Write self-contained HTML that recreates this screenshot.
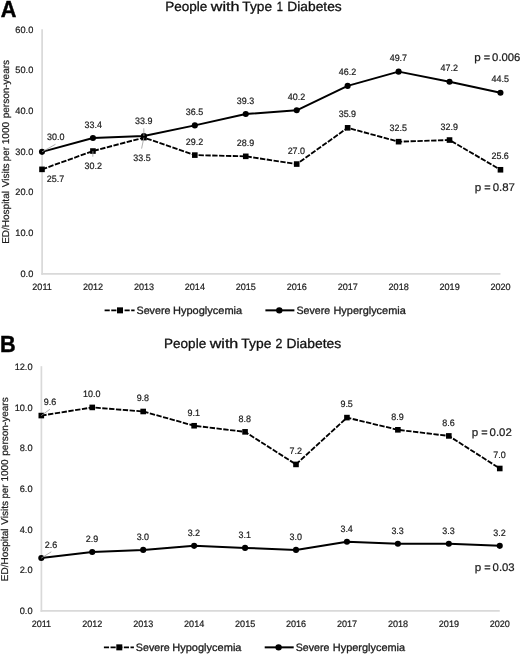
<!DOCTYPE html>
<html><head><meta charset="utf-8"><title>Figure</title>
<style>
html,body{margin:0;padding:0;background:#fff;}
svg{display:block;font-family:"Liberation Sans", sans-serif;fill:#1c1c1c;text-rendering:geometricPrecision;}
text{stroke:#1c1c1c;stroke-width:0.22px;}
text.L{fill:#000;stroke:#000;stroke-width:0.45px;}
text.g{stroke-width:0.3px;}
text.t{fill:#111;stroke:#111;stroke-width:0.3px;}
</style></head><body>
<svg width="520" height="655" viewBox="0 0 520 655">
<rect width="520" height="655" fill="#fff"/>
<!-- panel A -->
<line x1="42.1" y1="29.2" x2="42.1" y2="274.65000000000003" stroke="#d9d9d9" stroke-width="1.7"/>
<line x1="41.25" y1="273.8" x2="500.46" y2="273.8" stroke="#d9d9d9" stroke-width="1.7"/>
<text x="20.46" y="276.80" font-size="9.3" textLength="12.81" lengthAdjust="spacingAndGlyphs">0.0</text>
<text x="15.33" y="236.08" font-size="9.3" textLength="17.94" lengthAdjust="spacingAndGlyphs">10.0</text>
<text x="15.33" y="195.37" font-size="9.3" textLength="17.94" lengthAdjust="spacingAndGlyphs">20.0</text>
<text x="15.33" y="154.65" font-size="9.3" textLength="17.94" lengthAdjust="spacingAndGlyphs">30.0</text>
<text x="15.33" y="113.93" font-size="9.3" textLength="17.94" lengthAdjust="spacingAndGlyphs">40.0</text>
<text x="15.33" y="73.22" font-size="9.3" textLength="17.94" lengthAdjust="spacingAndGlyphs">50.0</text>
<text x="15.33" y="32.50" font-size="9.3" textLength="17.94" lengthAdjust="spacingAndGlyphs">60.0</text>
<text x="32.34" y="290.00" font-size="9.3" textLength="19.50" lengthAdjust="spacingAndGlyphs">2011</text>
<text x="82.94" y="290.00" font-size="9.3" textLength="20.17" lengthAdjust="spacingAndGlyphs">2012</text>
<text x="133.88" y="290.00" font-size="9.3" textLength="20.17" lengthAdjust="spacingAndGlyphs">2013</text>
<text x="184.77" y="290.00" font-size="9.3" textLength="20.17" lengthAdjust="spacingAndGlyphs">2014</text>
<text x="235.76" y="290.00" font-size="9.3" textLength="20.17" lengthAdjust="spacingAndGlyphs">2015</text>
<text x="286.70" y="290.00" font-size="9.3" textLength="20.17" lengthAdjust="spacingAndGlyphs">2016</text>
<text x="337.64" y="290.00" font-size="9.3" textLength="20.17" lengthAdjust="spacingAndGlyphs">2017</text>
<text x="388.58" y="290.00" font-size="9.3" textLength="20.17" lengthAdjust="spacingAndGlyphs">2018</text>
<text x="439.52" y="290.00" font-size="9.3" textLength="20.17" lengthAdjust="spacingAndGlyphs">2019</text>
<text x="490.41" y="290.00" font-size="9.3" textLength="20.17" lengthAdjust="spacingAndGlyphs">2020</text>
<polyline points="42.00,169.36 92.94,151.04 143.88,137.60 194.82,155.11 245.76,156.33 296.70,164.06 347.64,127.83 398.58,141.67 449.52,140.04 500.46,169.77" fill="none" stroke="#000" stroke-width="1.85" stroke-dasharray="5.35 1.5"/>
<rect x="39.20" y="166.56" width="5.6" height="5.6" fill="#000"/>
<rect x="90.14" y="148.24" width="5.6" height="5.6" fill="#000"/>
<rect x="141.08" y="134.80" width="5.6" height="5.6" fill="#000"/>
<rect x="192.02" y="152.31" width="5.6" height="5.6" fill="#000"/>
<rect x="242.96" y="153.53" width="5.6" height="5.6" fill="#000"/>
<rect x="293.90" y="161.26" width="5.6" height="5.6" fill="#000"/>
<rect x="344.84" y="125.03" width="5.6" height="5.6" fill="#000"/>
<rect x="395.78" y="138.87" width="5.6" height="5.6" fill="#000"/>
<rect x="446.72" y="137.24" width="5.6" height="5.6" fill="#000"/>
<rect x="497.66" y="166.97" width="5.6" height="5.6" fill="#000"/>
<polyline points="42.00,151.85 92.94,138.01 143.88,135.97 194.82,125.38 245.76,113.98 296.70,110.32 347.64,85.89 398.58,71.64 449.52,81.82 500.46,92.81" fill="none" stroke="#000" stroke-width="2.0" stroke-linejoin="round"/>
<circle cx="42.00" cy="151.85" r="3.05" fill="#000"/>
<circle cx="92.94" cy="138.01" r="3.05" fill="#000"/>
<circle cx="143.88" cy="135.97" r="3.05" fill="#000"/>
<circle cx="194.82" cy="125.38" r="3.05" fill="#000"/>
<circle cx="245.76" cy="113.98" r="3.05" fill="#000"/>
<circle cx="296.70" cy="110.32" r="3.05" fill="#000"/>
<circle cx="347.64" cy="85.89" r="3.05" fill="#000"/>
<circle cx="398.58" cy="71.64" r="3.05" fill="#000"/>
<circle cx="449.52" cy="81.82" r="3.05" fill="#000"/>
<circle cx="500.46" cy="92.81" r="3.05" fill="#000"/>
<line x1="55.50" y1="144.30" x2="42.00" y2="151.85" stroke="#9c9c9c" stroke-width="0.8"/>
<line x1="92.80" y1="156.70" x2="92.94" y2="151.04" stroke="#9c9c9c" stroke-width="0.8"/>
<line x1="143.80" y1="128.30" x2="143.88" y2="135.97" stroke="#9c9c9c" stroke-width="0.8"/>
<line x1="141.60" y1="148.60" x2="143.88" y2="137.60" stroke="#9c9c9c" stroke-width="0.8"/>
<text x="47.03" y="139.90" font-size="9.3" textLength="17.41" lengthAdjust="spacingAndGlyphs">30.0</text>
<text x="84.53" y="127.90" font-size="9.3" textLength="17.41" lengthAdjust="spacingAndGlyphs">33.4</text>
<text x="135.08" y="124.00" font-size="9.3" textLength="17.41" lengthAdjust="spacingAndGlyphs">33.9</text>
<text x="185.85" y="114.93" font-size="9.3" textLength="17.41" lengthAdjust="spacingAndGlyphs">36.5</text>
<text x="236.79" y="103.53" font-size="9.3" textLength="17.41" lengthAdjust="spacingAndGlyphs">39.3</text>
<text x="287.78" y="99.87" font-size="9.3" textLength="17.41" lengthAdjust="spacingAndGlyphs">40.2</text>
<text x="338.72" y="75.44" font-size="9.3" textLength="17.41" lengthAdjust="spacingAndGlyphs">46.2</text>
<text x="389.66" y="61.19" font-size="9.3" textLength="17.41" lengthAdjust="spacingAndGlyphs">49.7</text>
<text x="440.60" y="71.37" font-size="9.3" textLength="17.41" lengthAdjust="spacingAndGlyphs">47.2</text>
<text x="491.54" y="82.36" font-size="9.3" textLength="17.41" lengthAdjust="spacingAndGlyphs">44.5</text>
<text x="46.78" y="182.30" font-size="9.3" textLength="17.41" lengthAdjust="spacingAndGlyphs">25.7</text>
<text x="84.58" y="168.70" font-size="9.3" textLength="17.41" lengthAdjust="spacingAndGlyphs">30.2</text>
<text x="133.23" y="160.75" font-size="9.3" textLength="17.41" lengthAdjust="spacingAndGlyphs">33.5</text>
<text x="185.80" y="144.66" font-size="9.3" textLength="17.41" lengthAdjust="spacingAndGlyphs">29.2</text>
<text x="236.74" y="145.88" font-size="9.3" textLength="17.41" lengthAdjust="spacingAndGlyphs">28.9</text>
<text x="287.63" y="153.62" font-size="9.3" textLength="17.41" lengthAdjust="spacingAndGlyphs">27.0</text>
<text x="338.67" y="117.38" font-size="9.3" textLength="17.41" lengthAdjust="spacingAndGlyphs">35.9</text>
<text x="389.61" y="131.22" font-size="9.3" textLength="17.41" lengthAdjust="spacingAndGlyphs">32.5</text>
<text x="440.55" y="129.59" font-size="9.3" textLength="17.41" lengthAdjust="spacingAndGlyphs">32.9</text>
<text x="491.44" y="159.32" font-size="9.3" textLength="17.41" lengthAdjust="spacingAndGlyphs">25.6</text>
<text y="60.90" font-size="11.0"><tspan x="474.26" textLength="6.48" lengthAdjust="spacingAndGlyphs">p</tspan> <tspan x="483.70" textLength="6.42" lengthAdjust="spacingAndGlyphs">=</tspan> <tspan x="492.09" textLength="28.34" lengthAdjust="spacingAndGlyphs">0.006</tspan></text>
<text y="191.20" font-size="11.0"><tspan x="474.86" textLength="6.48" lengthAdjust="spacingAndGlyphs">p</tspan> <tspan x="484.30" textLength="6.42" lengthAdjust="spacingAndGlyphs">=</tspan> <tspan x="492.68" textLength="22.25" lengthAdjust="spacingAndGlyphs">0.87</tspan></text>
<text y="11.15" font-size="13.4" class="t"><tspan x="165.19" textLength="42.07" lengthAdjust="spacingAndGlyphs">People</tspan> <tspan x="210.82" textLength="28.71" lengthAdjust="spacingAndGlyphs">with</tspan> <tspan x="242.39" textLength="29.67" lengthAdjust="spacingAndGlyphs">Type</tspan> <tspan x="276.67" textLength="6.17" lengthAdjust="spacingAndGlyphs">1</tspan> <tspan x="287.37" textLength="54.34" lengthAdjust="spacingAndGlyphs">Diabetes</tspan></text>
<text transform="translate(0.65,16.6) scale(0.93,1)" font-size="23.3" font-weight="bold" class="L">A</text>
<text transform="translate(8.90,243.30) rotate(-90)" y="0" font-size="9.9"><tspan x="-0.51" textLength="52.71" lengthAdjust="spacingAndGlyphs">ED/Hospital</tspan> <tspan x="56.00" textLength="23.86" lengthAdjust="spacingAndGlyphs">Visits</tspan> <tspan x="82.11" textLength="14.09" lengthAdjust="spacingAndGlyphs">per</tspan> <tspan x="99.09" textLength="22.21" lengthAdjust="spacingAndGlyphs">1000</tspan> <tspan x="124.99" textLength="58.36" lengthAdjust="spacingAndGlyphs">person-years</tspan></text>
<line x1="104.6" y1="310.35" x2="134.6" y2="310.35" stroke="#000" stroke-width="1.85" stroke-dasharray="5.15 1.5"/>
<rect x="117.00" y="307.35" width="6" height="6" fill="#000"/>
<text y="313.85" font-size="10.6" class="g"><tspan x="136.50" textLength="33.90" lengthAdjust="spacingAndGlyphs">Severe</tspan> <tspan x="172.97" textLength="69.23" lengthAdjust="spacingAndGlyphs">Hypoglycemia</tspan></text>
<line x1="265.4" y1="310.35" x2="294.4" y2="310.35" stroke="#000" stroke-width="2.0"/>
<circle cx="279.3" cy="310.35" r="3.2" fill="#000"/>
<text y="313.85" font-size="10.6" class="g"><tspan x="296.50" textLength="33.60" lengthAdjust="spacingAndGlyphs">Severe</tspan> <tspan x="333.47" textLength="72.32" lengthAdjust="spacingAndGlyphs">Hyperglycemia</tspan></text>
<!-- panel B -->
<line x1="41.4" y1="366.2" x2="41.4" y2="611.75" stroke="#d9d9d9" stroke-width="1.7"/>
<line x1="40.55" y1="610.9" x2="499.76" y2="610.9" stroke="#d9d9d9" stroke-width="1.7"/>
<text x="19.76" y="614.10" font-size="9.3" textLength="12.81" lengthAdjust="spacingAndGlyphs">0.0</text>
<text x="19.76" y="573.38" font-size="9.3" textLength="12.81" lengthAdjust="spacingAndGlyphs">2.0</text>
<text x="19.76" y="532.67" font-size="9.3" textLength="12.81" lengthAdjust="spacingAndGlyphs">4.0</text>
<text x="19.76" y="491.95" font-size="9.3" textLength="12.81" lengthAdjust="spacingAndGlyphs">6.0</text>
<text x="19.76" y="451.23" font-size="9.3" textLength="12.81" lengthAdjust="spacingAndGlyphs">8.0</text>
<text x="14.63" y="410.52" font-size="9.3" textLength="17.94" lengthAdjust="spacingAndGlyphs">10.0</text>
<text x="14.63" y="369.80" font-size="9.3" textLength="17.94" lengthAdjust="spacingAndGlyphs">12.0</text>
<text x="31.64" y="627.00" font-size="9.3" textLength="19.50" lengthAdjust="spacingAndGlyphs">2011</text>
<text x="82.24" y="627.00" font-size="9.3" textLength="20.17" lengthAdjust="spacingAndGlyphs">2012</text>
<text x="133.18" y="627.00" font-size="9.3" textLength="20.17" lengthAdjust="spacingAndGlyphs">2013</text>
<text x="184.07" y="627.00" font-size="9.3" textLength="20.17" lengthAdjust="spacingAndGlyphs">2014</text>
<text x="235.06" y="627.00" font-size="9.3" textLength="20.17" lengthAdjust="spacingAndGlyphs">2015</text>
<text x="286.00" y="627.00" font-size="9.3" textLength="20.17" lengthAdjust="spacingAndGlyphs">2016</text>
<text x="336.94" y="627.00" font-size="9.3" textLength="20.17" lengthAdjust="spacingAndGlyphs">2017</text>
<text x="387.88" y="627.00" font-size="9.3" textLength="20.17" lengthAdjust="spacingAndGlyphs">2018</text>
<text x="438.82" y="627.00" font-size="9.3" textLength="20.17" lengthAdjust="spacingAndGlyphs">2019</text>
<text x="489.71" y="627.00" font-size="9.3" textLength="20.17" lengthAdjust="spacingAndGlyphs">2020</text>
<polyline points="41.30,415.56 92.24,407.42 143.18,411.49 194.12,425.74 245.06,431.85 296.00,464.42 346.94,417.60 397.88,429.81 448.82,435.92 499.76,468.49" fill="none" stroke="#000" stroke-width="1.85" stroke-dasharray="5.35 1.5"/>
<rect x="38.50" y="412.76" width="5.6" height="5.6" fill="#000"/>
<rect x="89.44" y="404.62" width="5.6" height="5.6" fill="#000"/>
<rect x="140.38" y="408.69" width="5.6" height="5.6" fill="#000"/>
<rect x="191.32" y="422.94" width="5.6" height="5.6" fill="#000"/>
<rect x="242.26" y="429.05" width="5.6" height="5.6" fill="#000"/>
<rect x="293.20" y="461.62" width="5.6" height="5.6" fill="#000"/>
<rect x="344.14" y="414.80" width="5.6" height="5.6" fill="#000"/>
<rect x="395.08" y="427.01" width="5.6" height="5.6" fill="#000"/>
<rect x="446.02" y="433.12" width="5.6" height="5.6" fill="#000"/>
<rect x="496.96" y="465.69" width="5.6" height="5.6" fill="#000"/>
<polyline points="41.30,558.07 92.24,551.96 143.18,549.92 194.12,545.85 245.06,547.89 296.00,549.92 346.94,541.78 397.88,543.82 448.82,543.82 499.76,545.85" fill="none" stroke="#000" stroke-width="2.0" stroke-linejoin="round"/>
<circle cx="41.30" cy="558.07" r="3.05" fill="#000"/>
<circle cx="92.24" cy="551.96" r="3.05" fill="#000"/>
<circle cx="143.18" cy="549.92" r="3.05" fill="#000"/>
<circle cx="194.12" cy="545.85" r="3.05" fill="#000"/>
<circle cx="245.06" cy="547.89" r="3.05" fill="#000"/>
<circle cx="296.00" cy="549.92" r="3.05" fill="#000"/>
<circle cx="346.94" cy="541.78" r="3.05" fill="#000"/>
<circle cx="397.88" cy="543.82" r="3.05" fill="#000"/>
<circle cx="448.82" cy="543.82" r="3.05" fill="#000"/>
<circle cx="499.76" cy="545.85" r="3.05" fill="#000"/>
<line x1="50.00" y1="409.20" x2="41.30" y2="415.56" stroke="#9c9c9c" stroke-width="0.8"/>
<line x1="51.30" y1="551.80" x2="41.30" y2="558.07" stroke="#9c9c9c" stroke-width="0.8"/>
<text x="44.77" y="548.00" font-size="9.3" textLength="12.44" lengthAdjust="spacingAndGlyphs">2.6</text>
<text x="85.71" y="541.81" font-size="9.3" textLength="12.44" lengthAdjust="spacingAndGlyphs">2.9</text>
<text x="136.65" y="539.77" font-size="9.3" textLength="12.44" lengthAdjust="spacingAndGlyphs">3.0</text>
<text x="187.64" y="535.70" font-size="9.3" textLength="12.44" lengthAdjust="spacingAndGlyphs">3.2</text>
<text x="238.58" y="537.74" font-size="9.3" textLength="12.44" lengthAdjust="spacingAndGlyphs">3.1</text>
<text x="289.47" y="539.77" font-size="9.3" textLength="12.44" lengthAdjust="spacingAndGlyphs">3.0</text>
<text x="340.41" y="531.63" font-size="9.3" textLength="12.44" lengthAdjust="spacingAndGlyphs">3.4</text>
<text x="391.40" y="533.67" font-size="9.3" textLength="12.44" lengthAdjust="spacingAndGlyphs">3.3</text>
<text x="442.34" y="533.67" font-size="9.3" textLength="12.44" lengthAdjust="spacingAndGlyphs">3.3</text>
<text x="493.28" y="535.70" font-size="9.3" textLength="12.44" lengthAdjust="spacingAndGlyphs">3.2</text>
<text x="43.77" y="405.30" font-size="9.3" textLength="12.44" lengthAdjust="spacingAndGlyphs">9.6</text>
<text x="83.03" y="397.27" font-size="9.3" textLength="17.41" lengthAdjust="spacingAndGlyphs">10.0</text>
<text x="136.65" y="401.34" font-size="9.3" textLength="12.44" lengthAdjust="spacingAndGlyphs">9.8</text>
<text x="187.59" y="415.59" font-size="9.3" textLength="12.44" lengthAdjust="spacingAndGlyphs">9.1</text>
<text x="238.53" y="421.70" font-size="9.3" textLength="12.44" lengthAdjust="spacingAndGlyphs">8.8</text>
<text x="289.47" y="454.27" font-size="9.3" textLength="12.44" lengthAdjust="spacingAndGlyphs">7.2</text>
<text x="340.41" y="407.45" font-size="9.3" textLength="12.44" lengthAdjust="spacingAndGlyphs">9.5</text>
<text x="391.35" y="419.66" font-size="9.3" textLength="12.44" lengthAdjust="spacingAndGlyphs">8.9</text>
<text x="442.29" y="425.77" font-size="9.3" textLength="12.44" lengthAdjust="spacingAndGlyphs">8.6</text>
<text x="493.18" y="458.34" font-size="9.3" textLength="12.44" lengthAdjust="spacingAndGlyphs">7.0</text>
<text y="435.75" font-size="11.0"><tspan x="471.76" textLength="6.48" lengthAdjust="spacingAndGlyphs">p</tspan> <tspan x="481.20" textLength="6.42" lengthAdjust="spacingAndGlyphs">=</tspan> <tspan x="489.59" textLength="22.20" lengthAdjust="spacingAndGlyphs">0.02</tspan></text>
<text y="571.00" font-size="11.0"><tspan x="474.76" textLength="6.48" lengthAdjust="spacingAndGlyphs">p</tspan> <tspan x="484.20" textLength="6.42" lengthAdjust="spacingAndGlyphs">=</tspan> <tspan x="492.59" textLength="22.09" lengthAdjust="spacingAndGlyphs">0.03</tspan></text>
<text y="348.40" font-size="13.4" class="t"><tspan x="164.09" textLength="42.07" lengthAdjust="spacingAndGlyphs">People</tspan> <tspan x="209.72" textLength="28.60" lengthAdjust="spacingAndGlyphs">with</tspan> <tspan x="241.39" textLength="29.98" lengthAdjust="spacingAndGlyphs">Type</tspan> <tspan x="275.45" textLength="6.85" lengthAdjust="spacingAndGlyphs">2</tspan> <tspan x="286.56" textLength="54.65" lengthAdjust="spacingAndGlyphs">Diabetes</tspan></text>
<text transform="translate(0.1,352.3) scale(0.93,1)" font-size="23.3" font-weight="bold" class="L">B</text>
<text transform="translate(8.20,580.70) rotate(-90)" y="0" font-size="9.9"><tspan x="-0.51" textLength="52.71" lengthAdjust="spacingAndGlyphs">ED/Hospital</tspan> <tspan x="56.00" textLength="23.86" lengthAdjust="spacingAndGlyphs">Visits</tspan> <tspan x="82.11" textLength="14.09" lengthAdjust="spacingAndGlyphs">per</tspan> <tspan x="99.09" textLength="22.21" lengthAdjust="spacingAndGlyphs">1000</tspan> <tspan x="124.99" textLength="58.36" lengthAdjust="spacingAndGlyphs">person-years</tspan></text>
<line x1="103.89999999999999" y1="647.35" x2="133.9" y2="647.35" stroke="#000" stroke-width="1.85" stroke-dasharray="5.15 1.5"/>
<rect x="116.30" y="644.35" width="6" height="6" fill="#000"/>
<text y="650.85" font-size="10.6" class="g"><tspan x="135.80" textLength="33.90" lengthAdjust="spacingAndGlyphs">Severe</tspan> <tspan x="172.27" textLength="69.23" lengthAdjust="spacingAndGlyphs">Hypoglycemia</tspan></text>
<line x1="264.7" y1="647.35" x2="293.7" y2="647.35" stroke="#000" stroke-width="2.0"/>
<circle cx="278.6" cy="647.35" r="3.2" fill="#000"/>
<text y="650.85" font-size="10.6" class="g"><tspan x="295.80" textLength="33.60" lengthAdjust="spacingAndGlyphs">Severe</tspan> <tspan x="332.77" textLength="72.32" lengthAdjust="spacingAndGlyphs">Hyperglycemia</tspan></text>
</svg>
</body></html>
